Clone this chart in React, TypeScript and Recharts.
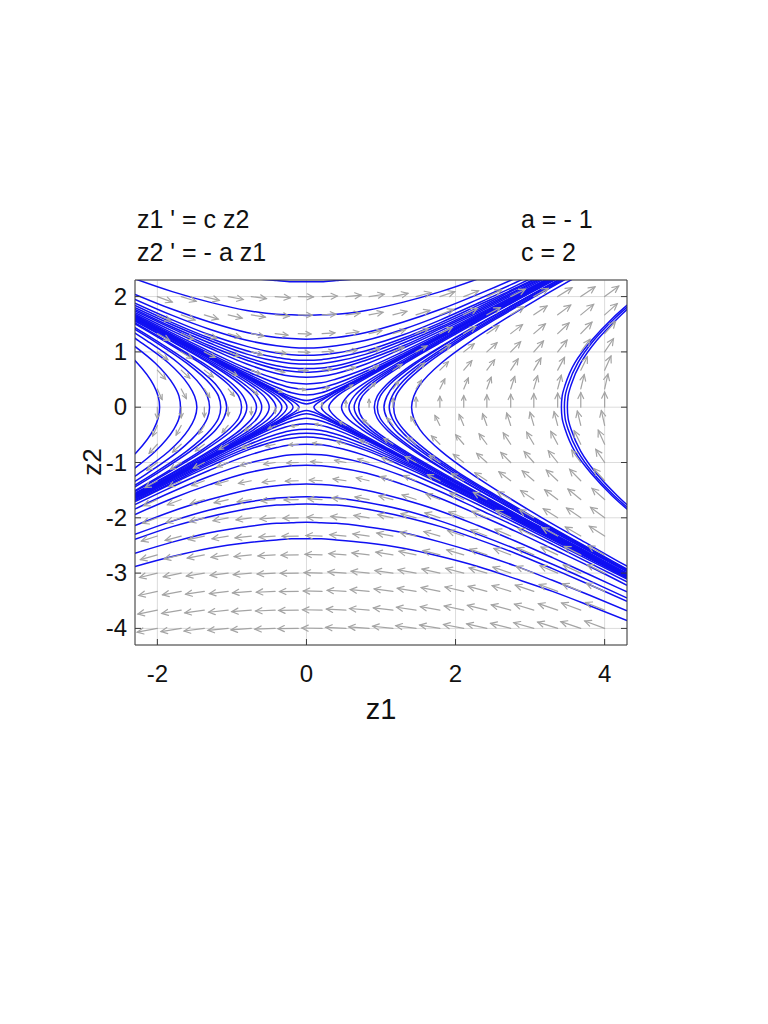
import React from 'react';
import { ComposedChart, Line, Scatter, XAxis, YAxis, CartesianGrid } from 'recharts';

// parameters of the system shown in the header
const A = -1;
const C = 2;

const X_TICKS = [-2, 0, 2, 4];
const Y_TICKS = [-4, -3, -2, -1, 0, 1, 2];
const X_DOMAIN: [number, number] = [-2.3, 4.3];
const Y_DOMAIN: [number, number] = [-4.3, 2.3];

// z1 positions where the up/down opening trajectories were read
const Z1_SAMPLES = [-2.3, -1.8, -1.3, -0.8, -0.4, -0.2, 0, 0.2, 0.4, 0.8, 1.3, 1.8, 2.3, 2.8, 3.3, 3.8, 4.3];

// trajectories above the saddle (z2 values at Z1_SAMPLES)
const UPPER_TRAJ: (number | null)[][] = [
  [2.79, 2.6, 2.45, 2.34, 2.29, 2.27, 2.27, 2.27, 2.29, 2.34, 2.45, 2.6, 2.79, null, null, null, null],
  [2.32, 2.09, 1.9, 1.75, 1.68, 1.67, 1.66, 1.67, 1.68, 1.75, 1.9, 2.09, 2.32, 2.58, null, null, null],
  [2.04, 1.77, 1.54, 1.35, 1.26, 1.24, 1.23, 1.24, 1.26, 1.35, 1.54, 1.77, 2.04, 2.33, 2.64, null, null],
  [1.95, 1.66, 1.41, 1.21, 1.11, 1.08, 1.07, 1.08, 1.11, 1.21, 1.41, 1.66, 1.95, 2.25, 2.57, null, null],
  [1.88, 1.58, 1.31, 1.1, 0.98, 0.95, 0.94, 0.95, 0.98, 1.1, 1.31, 1.58, 1.88, 2.19, 2.52, null, null],
  [1.84, 1.53, 1.25, 1.02, 0.9, 0.86, 0.85, 0.86, 0.9, 1.02, 1.25, 1.53, 1.84, 2.15, 2.48, null, null],
  [1.8, 1.49, 1.21, 0.96, 0.83, 0.79, 0.78, 0.79, 0.83, 0.96, 1.21, 1.49, 1.8, 2.13, 2.46, null, null],
  [1.77, 1.45, 1.16, 0.9, 0.75, 0.71, 0.7, 0.71, 0.75, 0.9, 1.16, 1.45, 1.77, 2.1, 2.44, null, null],
  [1.74, 1.42, 1.11, 0.85, 0.69, 0.65, 0.63, 0.65, 0.69, 0.85, 1.11, 1.42, 1.74, 2.08, 2.42, null, null],
  [1.71, 1.38, 1.07, 0.78, 0.61, 0.56, 0.54, 0.56, 0.61, 0.78, 1.07, 1.38, 1.71, 2.05, 2.4, null, null],
  [1.68, 1.34, 1.01, 0.7, 0.51, 0.44, 0.42, 0.44, 0.51, 0.7, 1.01, 1.34, 1.68, 2.02, 2.37, null, null],
  [1.66, 1.31, 0.97, 0.65, 0.43, 0.35, 0.32, 0.35, 0.43, 0.65, 0.97, 1.31, 1.66, 2.01, 2.36, null, null],
  [1.64, 1.29, 0.94, 0.61, 0.36, 0.26, 0.22, 0.26, 0.36, 0.61, 0.94, 1.29, 1.64, 1.99, 2.34, null, null],
  [1.63, 1.28, 0.93, 0.58, 0.31, 0.19, 0.12, 0.19, 0.31, 0.58, 0.93, 1.28, 1.63, 1.98, 2.34, null, null],
  [1.63, 1.27, 0.92, 0.57, 0.29, 0.15, 0.06, 0.15, 0.29, 0.57, 0.92, 1.27, 1.63, 1.98, 2.33, null, null],
];

// trajectories below the saddle
const LOWER_TRAJ: (number | null)[][] = [
  [-1.63, -1.27, -0.92, -0.57, -0.29, -0.15, -0.06, -0.15, -0.29, -0.57, -0.92, -1.27, -1.63, -1.98, -2.33, -2.69, -3.04],
  [-1.63, -1.28, -0.93, -0.58, -0.31, -0.19, -0.12, -0.19, -0.31, -0.58, -0.93, -1.28, -1.63, -1.98, -2.34, -2.69, -3.04],
  [-1.64, -1.29, -0.94, -0.6, -0.35, -0.25, -0.2, -0.25, -0.35, -0.6, -0.94, -1.29, -1.64, -1.99, -2.34, -2.69, -3.05],
  [-1.65, -1.31, -0.97, -0.64, -0.41, -0.33, -0.3, -0.33, -0.41, -0.64, -0.97, -1.31, -1.65, -2.0, -2.35, -2.7, -3.06],
  [-1.67, -1.33, -1.0, -0.69, -0.49, -0.42, -0.4, -0.42, -0.49, -0.69, -1.0, -1.33, -1.67, -2.02, -2.37, -2.72, -3.07],
  [-1.69, -1.36, -1.03, -0.74, -0.55, -0.49, -0.47, -0.49, -0.55, -0.74, -1.03, -1.36, -1.69, -2.03, -2.38, -2.73, -3.08],
  [-1.71, -1.38, -1.07, -0.78, -0.61, -0.56, -0.54, -0.56, -0.61, -0.78, -1.07, -1.38, -1.71, -2.05, -2.4, -2.74, -3.09],
  [-1.76, -1.44, -1.14, -0.88, -0.73, -0.68, -0.67, -0.68, -0.73, -0.88, -1.14, -1.44, -1.76, -2.09, -2.43, -2.77, -3.11],
  [-1.84, -1.53, -1.25, -1.02, -0.9, -0.86, -0.85, -0.86, -0.9, -1.02, -1.25, -1.53, -1.84, -2.15, -2.48, -2.82, -3.16],
  [-1.94, -1.65, -1.4, -1.19, -1.09, -1.06, -1.05, -1.06, -1.09, -1.19, -1.4, -1.65, -1.94, -2.24, -2.56, -2.88, -3.22],
  [-2.14, -1.88, -1.67, -1.5, -1.42, -1.4, -1.39, -1.4, -1.42, -1.5, -1.67, -1.88, -2.14, -2.42, -2.72, -3.03, -3.34],
  [-2.3, -2.06, -1.86, -1.72, -1.64, -1.63, -1.62, -1.63, -1.64, -1.72, -1.86, -2.06, -2.3, -2.56, -2.84, -3.14, -3.45],
  [-2.39, -2.16, -1.98, -1.84, -1.77, -1.76, -1.75, -1.76, -1.77, -1.84, -1.98, -2.16, -2.39, -2.64, -2.92, -3.21, -3.51],
  [-2.64, -2.44, -2.27, -2.16, -2.1, -2.09, -2.08, -2.09, -2.1, -2.16, -2.27, -2.44, -2.64, -2.87, -3.13, -3.4, -3.68],
  [-2.88, -2.7, -2.55, -2.45, -2.4, -2.38, -2.38, -2.38, -2.4, -2.45, -2.55, -2.7, -2.88, -3.1, -3.33, -3.59, -3.86],
];

// z2 positions where the left/right opening trajectories were read
const Z2_SAMPLES = [2.4, 2.0, 1.6, 1.2, 0.8, 0.4, 0.2, 0, -0.2, -0.4, -0.8, -1.2, -1.6, -2.0, -2.4, -2.8, -3.2];

// trajectories left of the saddle (z1 values at Z2_SAMPLES)
const LEFT_TRAJ: (number | null)[][] = [
  [null, -3.45, -3.0, -2.6, -2.27, -2.05, -1.99, -1.97, -1.99, -2.05, -2.27, -2.6, -3.0, -3.45, null, null, null],
  [null, -3.29, -2.82, -2.4, -2.03, -1.78, -1.71, -1.69, -1.71, -1.78, -2.03, -2.4, -2.82, -3.29, null, null, null],
  [null, -3.19, -2.7, -2.25, -1.85, -1.58, -1.5, -1.47, -1.5, -1.58, -1.85, -2.25, -2.7, -3.19, null, null, null],
  [null, -3.11, -2.61, -2.14, -1.72, -1.42, -1.33, -1.3, -1.33, -1.42, -1.72, -2.14, -2.61, -3.11, null, null, null],
  [null, -3.05, -2.54, -2.05, -1.61, -1.28, -1.18, -1.15, -1.18, -1.28, -1.61, -2.05, -2.54, -3.05, null, null, null],
  [null, -3.02, -2.5, -2.01, -1.56, -1.21, -1.11, -1.07, -1.11, -1.21, -1.56, -2.01, -2.5, -3.02, null, null, null],
  [null, -2.96, -2.42, -1.91, -1.43, -1.04, -0.91, -0.87, -0.91, -1.04, -1.43, -1.91, -2.42, -2.96, null, null, null],
  [null, -2.94, -2.4, -1.88, -1.39, -0.98, -0.85, -0.8, -0.85, -0.98, -1.39, -1.88, -2.4, -2.94, null, null, null],
  [null, -2.91, -2.36, -1.82, -1.31, -0.88, -0.73, -0.67, -0.73, -0.88, -1.31, -1.82, -2.36, -2.91, null, null, null],
  [null, -2.89, -2.34, -1.8, -1.28, -0.82, -0.66, -0.6, -0.66, -0.82, -1.28, -1.8, -2.34, -2.89, null, null, null],
  [null, -2.87, -2.32, -1.77, -1.24, -0.75, -0.57, -0.5, -0.57, -0.75, -1.24, -1.77, -2.32, -2.87, null, null, null],
  [null, -2.86, -2.3, -1.75, -1.2, -0.7, -0.5, -0.41, -0.5, -0.7, -1.2, -1.75, -2.3, -2.86, null, null, null],
  [null, -2.85, -2.29, -1.73, -1.18, -0.65, -0.43, -0.33, -0.43, -0.65, -1.18, -1.73, -2.29, -2.85, null, null, null],
  [null, -2.84, -2.28, -1.72, -1.16, -0.62, -0.38, -0.26, -0.38, -0.62, -1.16, -1.72, -2.28, -2.84, null, null, null],
  [null, -2.83, -2.27, -1.71, -1.15, -0.59, -0.33, -0.18, -0.33, -0.59, -1.15, -1.71, -2.27, -2.83, null, null, null],
  [null, -2.83, -2.26, -1.7, -1.14, -0.57, -0.3, -0.1, -0.3, -0.57, -1.14, -1.7, -2.26, -2.83, null, null, null],
];

// trajectories right of the saddle
const RIGHT_TRAJ: (number | null)[][] = [
  [3.4, 2.83, 2.26, 1.7, 1.14, 0.57, 0.3, 0.1, 0.3, 0.57, 1.14, 1.7, 2.26, 2.83, 3.4, 3.96, 4.53],
  [3.4, 2.84, 2.27, 1.71, 1.15, 0.6, 0.35, 0.2, 0.35, 0.6, 1.15, 1.71, 2.27, 2.84, 3.4, 3.96, 4.53],
  [3.41, 2.84, 2.28, 1.72, 1.17, 0.64, 0.41, 0.3, 0.41, 0.64, 1.17, 1.72, 2.28, 2.84, 3.41, 3.97, 4.54],
  [3.43, 2.87, 2.31, 1.76, 1.23, 0.74, 0.55, 0.47, 0.55, 0.74, 1.23, 1.76, 2.31, 2.87, 3.43, 3.99, 4.55],
  [3.44, 2.89, 2.33, 1.79, 1.27, 0.8, 0.64, 0.57, 0.64, 0.8, 1.27, 1.79, 2.33, 2.89, 3.44, 4.0, 4.56],
  [3.45, 2.9, 2.35, 1.81, 1.3, 0.85, 0.7, 0.64, 0.7, 0.85, 1.3, 1.81, 2.35, 2.9, 3.45, 4.01, 4.57],
  [3.47, 2.91, 2.37, 1.84, 1.33, 0.9, 0.75, 0.7, 0.75, 0.9, 1.33, 1.84, 2.37, 2.91, 3.47, 4.02, 4.58],
  [3.51, 2.97, 2.44, 1.93, 1.45, 1.07, 0.95, 0.91, 0.95, 1.07, 1.45, 1.93, 2.44, 2.97, 3.51, 4.06, 4.62],
  [3.52, 2.98, 2.45, 1.94, 1.48, 1.11, 0.99, 0.95, 0.99, 1.11, 1.48, 1.94, 2.45, 2.98, 3.52, 4.07, 4.62],
  [3.55, 3.01, 2.49, 1.99, 1.54, 1.18, 1.08, 1.04, 1.08, 1.18, 1.54, 1.99, 2.49, 3.01, 3.55, 4.09, 4.64],
  [3.57, 3.04, 2.52, 2.03, 1.58, 1.25, 1.15, 1.11, 1.15, 1.25, 1.58, 2.03, 2.52, 3.04, 3.57, 4.11, 4.66],
  [3.59, 3.06, 2.55, 2.06, 1.63, 1.3, 1.2, 1.17, 1.2, 1.3, 1.63, 2.06, 2.55, 3.06, 3.59, 4.13, 4.67],
  [3.68, 3.16, 2.67, 2.21, 1.81, 1.52, 1.44, 1.41, 1.44, 1.52, 1.81, 2.21, 2.67, 3.16, 3.68, 4.2, 4.74],
  [4.82, 4.44, 4.1, 3.82, 3.6, 3.47, 3.43, 3.42, 3.43, 3.47, 3.6, 3.82, 4.1, 4.44, 4.82, 5.23, 5.67],
  [4.85, 4.47, 4.13, 3.85, 3.64, 3.51, 3.47, 3.46, 3.47, 3.51, 3.64, 3.85, 4.13, 4.47, 4.85, 5.26, 5.7],
  [4.88, 4.5, 4.17, 3.89, 3.68, 3.55, 3.51, 3.5, 3.51, 3.55, 3.68, 3.89, 4.17, 4.5, 4.88, 5.28, 5.72],
];

// direction field grid
const QUIVER_Z1 = [-2, -1.68, -1.37, -1.05, -0.74, -0.42, -0.11, 0.21, 0.53, 0.84, 1.16, 1.47, 1.79, 2.11, 2.42, 2.74, 3.05, 3.37, 3.68, 4];
const QUIVER_Z2 = [-4, -3.67, -3.33, -3, -2.67, -2.33, -2, -1.67, -1.33, -1, -0.67, -0.33, 0, 0.33, 0.67, 1, 1.33, 1.67, 2];

// layout
const WIDTH = 768;
const HEIGHT = 760;
const MARGIN = { top: 270, right: 131, bottom: 35, left: 85 };
const Y_AXIS_W = 50;
const X_AXIS_H = 80;
const SIDE = 10;
const PLOT_W = WIDTH - MARGIN.left - MARGIN.right - Y_AXIS_W - SIDE;
const PLOT_H = HEIGHT - MARGIN.top - MARGIN.bottom - X_AXIS_H - SIDE;
const PX_X = PLOT_W / (X_DOMAIN[1] - X_DOMAIN[0]);
const PX_Y = PLOT_H / (Y_DOMAIN[1] - Y_DOMAIN[0]);

const FONT = '"Liberation Sans", Arial, Helvetica, sans-serif';
const BLUE = '#1010f2';
const ARROW = '#a4a4a4';
const FRAME = '#3c3c3c';

const upperData = UPPER_TRAJ.map((row) =>
  Z1_SAMPLES.map((x, i) => ({ x, y: row[i] })).filter((p) => p.y != null)
);
const lowerData = LOWER_TRAJ.map((row) =>
  Z1_SAMPLES.map((x, i) => ({ x, y: row[i] })).filter((p) => p.y != null)
);
const leftData = LEFT_TRAJ.map((row) =>
  Z2_SAMPLES.map((y, i) => ({ x: row[i], y })).filter((p) => p.x != null)
);
const rightData = RIGHT_TRAJ.map((row) =>
  Z2_SAMPLES.map((y, i) => ({ x: row[i], y })).filter((p) => p.x != null)
);
const quiverData = QUIVER_Z2.flatMap((y) => QUIVER_Z1.map((x) => ({ x, y })));

function QuiverArrow(props: any) {
  const { cx, cy, payload } = props;
  if (cx == null || cy == null || !payload) return <g />;
  const vx = C * payload.y;
  const vy = -A * payload.x;
  const sx = vx * PX_X;
  const sy = -vy * PX_Y;
  const n = Math.hypot(sx, sy);
  if (n === 0) return <g />;
  const mag = Math.hypot(vx, vy);
  const len = 14 * Math.pow(mag / 3.33, 0.42);
  const ux = sx / n;
  const uy = sy / n;
  const tx = cx + ux * len;
  const ty = cy + uy * len;
  const head = Math.min(7, len * 0.45);
  const back = Math.atan2(-uy, -ux);
  const a1 = back + 0.45;
  const a2 = back - 0.45;
  const pts = `${tx + head * Math.cos(a1)},${ty + head * Math.sin(a1)} ${tx},${ty} ${tx + head * Math.cos(a2)},${ty + head * Math.sin(a2)}`;
  return (
    <g stroke={ARROW} strokeWidth={1.2} fill="none" strokeLinecap="round">
      <line x1={cx} y1={cy} x2={tx} y2={ty} />
      <polyline points={pts} />
    </g>
  );
}

// tick label drawn as plain svg text so the size is under our control
function TickLabel(props: any) {
  const { x, y, payload, textAnchor, orient } = props;
  const dy = orient === 'bottom' ? 17 : 8;
  return (
    <text x={x} y={y + dy} textAnchor={textAnchor} fontFamily={FONT} fontSize={24} fill="#111">
      {payload.value}
    </text>
  );
}

export default function App() {
  return (
    <div style={{ position: 'absolute', left: 0, top: 0, width: WIDTH, height: HEIGHT, background: '#fff' }}>
      <ComposedChart width={WIDTH} height={HEIGHT} margin={MARGIN}>
        <CartesianGrid stroke="#dcdcdc" strokeWidth={1} />
        <XAxis
          dataKey="x"
          type="number"
          domain={X_DOMAIN}
          allowDataOverflow
          ticks={X_TICKS}
          interval={0}
          height={X_AXIS_H}
          tickSize={-6}
          tickMargin={26}
          tick={(p: any) => <TickLabel {...p} orient="bottom" />}
          axisLine={{ stroke: FRAME }}
          tickLine={{ stroke: FRAME }}
          label={{ value: 'z1', position: 'insideBottom', offset: 6, fontSize: 29, fill: '#111', fontFamily: FONT }}
        />
        <XAxis
          xAxisId="top"
          orientation="top"
          type="number"
          domain={X_DOMAIN}
          allowDataOverflow
          ticks={X_TICKS}
          interval={0}
          height={SIDE}
          tickSize={-6}
          tick={() => <g />}
          axisLine={{ stroke: FRAME }}
          tickLine={{ stroke: FRAME }}
        />
        <YAxis
          dataKey="y"
          type="number"
          domain={Y_DOMAIN}
          allowDataOverflow
          ticks={Y_TICKS}
          interval={0}
          width={Y_AXIS_W}
          tickSize={-6}
          tickMargin={14}
          tick={(p: any) => <TickLabel {...p} orient="left" />}
          axisLine={{ stroke: FRAME }}
          tickLine={{ stroke: FRAME }}
        />
        <YAxis
          yAxisId="right"
          orientation="right"
          type="number"
          domain={Y_DOMAIN}
          allowDataOverflow
          ticks={Y_TICKS}
          interval={0}
          width={SIDE}
          tickSize={-6}
          tick={() => <g />}
          axisLine={{ stroke: FRAME }}
          tickLine={{ stroke: FRAME }}
        />
        <Scatter data={quiverData} dataKey="y" shape={QuiverArrow} isAnimationActive={false} />
        {upperData.map((d, i) => (
          <Line key={`u${i}`} data={d} dataKey="y" type="monotoneX" stroke={BLUE} strokeWidth={1.5} dot={false} activeDot={false} isAnimationActive={false} />
        ))}
        {lowerData.map((d, i) => (
          <Line key={`d${i}`} data={d} dataKey="y" type="monotoneX" stroke={BLUE} strokeWidth={1.5} dot={false} activeDot={false} isAnimationActive={false} />
        ))}
        {leftData.map((d, i) => (
          <Line key={`l${i}`} data={d} dataKey="y" type="monotoneY" stroke={BLUE} strokeWidth={1.5} dot={false} activeDot={false} isAnimationActive={false} />
        ))}
        {rightData.map((d, i) => (
          <Line key={`r${i}`} data={d} dataKey="y" type="monotoneY" stroke={BLUE} strokeWidth={1.5} dot={false} activeDot={false} isAnimationActive={false} />
        ))}
      </ComposedChart>
      <svg width={WIDTH} height={HEIGHT} style={{ position: 'absolute', left: 0, top: 0, pointerEvents: 'none' }}>
        <g fontFamily={FONT} fontSize={25} fill="#111">
          <text x={137} y={228}>z1 ' = c z2</text>
          <text x={137} y={261}>z2 ' = - a z1</text>
          <text x={521} y={228}>a = - 1</text>
          <text x={521} y={261}>c = 2</text>
        </g>
        <text x={0} y={0} transform="translate(101, 462) rotate(-90)" textAnchor="middle" fontFamily={FONT} fontSize={26} fill="#111">
          z2
        </text>
      </svg>
    </div>
  );
}
